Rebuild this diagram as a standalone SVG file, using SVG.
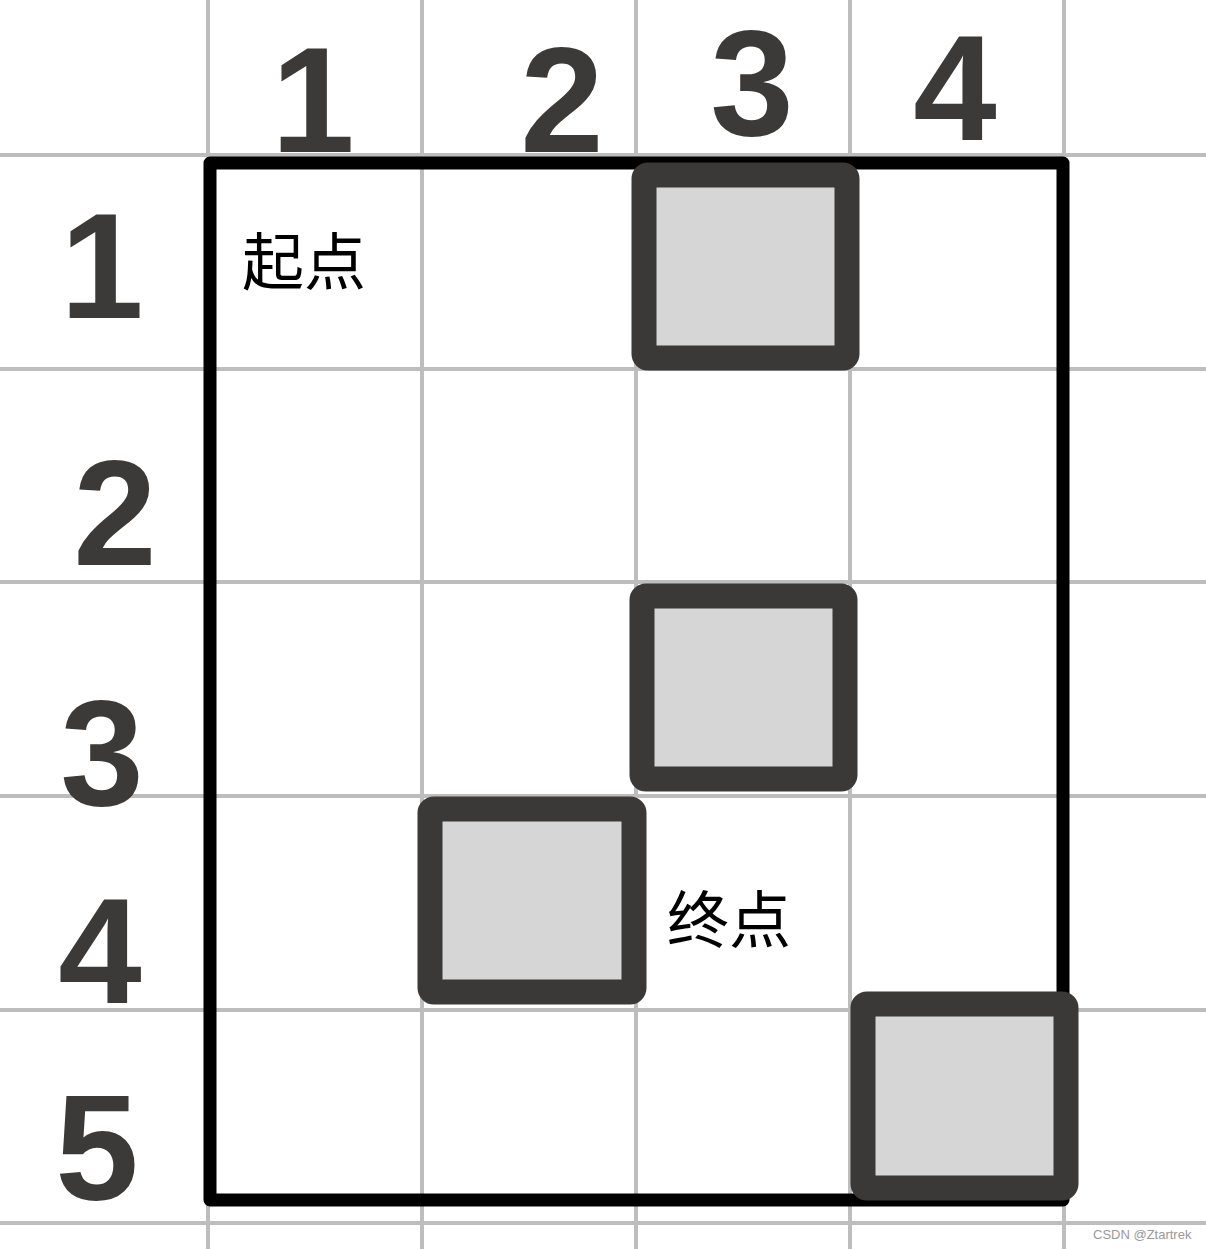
<svg xmlns="http://www.w3.org/2000/svg" width="1206" height="1249" viewBox="0 0 1206 1249">
<style>
.grid{stroke:#bdbdbd;stroke-width:4;fill:none}
.frame{stroke:#000;stroke-width:13;fill:none;stroke-linejoin:round}
.box{fill:#d6d6d6;stroke:#3b3838;stroke-width:25;stroke-linejoin:round}
.num{font-family:"Liberation Sans",Arial,sans-serif;font-weight:bold;font-size:150px;fill:#3c3a39;text-anchor:middle}
.lbl{font-family:"Noto Sans CJK SC","Noto Sans",sans-serif;font-size:62px;fill:#000}
.wm{font-family:"Liberation Sans",Arial,sans-serif;font-size:13px;fill:#999}
</style>
<rect width="1206" height="1249" fill="#fff"/>
<g id="grid">
<line class="grid" x1="0" y1="155" x2="1206" y2="155"/>
<line class="grid" x1="0" y1="369" x2="1206" y2="369"/>
<line class="grid" x1="0" y1="582" x2="1206" y2="582"/>
<line class="grid" x1="0" y1="796" x2="1206" y2="796"/>
<line class="grid" x1="0" y1="1010" x2="1206" y2="1010"/>
<line class="grid" x1="0" y1="1223" x2="1206" y2="1223"/>
<line class="grid" x1="208" y1="0" x2="208" y2="1249"/>
<line class="grid" x1="422" y1="0" x2="422" y2="1249"/>
<line class="grid" x1="636" y1="0" x2="636" y2="1249"/>
<line class="grid" x1="850" y1="0" x2="850" y2="1249"/>
<line class="grid" x1="1064" y1="0" x2="1064" y2="1249"/>
</g>
<g id="frame"><rect class="frame" x="210" y="163" width="853" height="1037"/></g>
<g id="col-labels">
<text class="num" x="313" y="152">1</text>
<text class="num" x="562" y="152">2</text>
<text class="num" x="752" y="135">3</text>
<text class="num" x="955" y="140">4</text>
</g>
<g id="row-labels">
<text class="num" x="102" y="318">1</text>
<text class="num" x="115" y="565">2</text>
<text class="num" x="102" y="805">3</text>
<text class="num" x="100" y="1003">4</text>
<text class="num" x="97" y="1200">5</text>
</g>
<g id="obstacle-1-3"><rect class="box" x="644" y="175" width="203" height="183" rx="4"/></g>
<g id="obstacle-3-3"><rect class="box" x="642" y="596" width="203" height="183" rx="4"/></g>
<g id="obstacle-4-2"><rect class="box" x="430" y="809" width="204" height="183" rx="4"/></g>
<g id="obstacle-5-4"><rect class="box" x="863" y="1004" width="203" height="184" rx="4"/></g>
<g id="start"><text class="lbl" x="242" y="285">起点</text></g>
<g id="end"><text class="lbl" x="667" y="943">终点</text></g>
<g id="connectors"></g>
<text class="wm" x="1093" y="1239">CSDN @Ztartrek</text>
</svg>
